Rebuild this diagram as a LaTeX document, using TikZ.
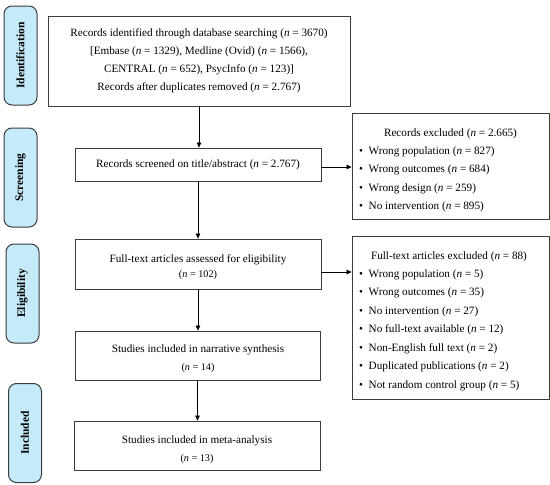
\documentclass[tikz,border=0pt]{standalone}
\usepackage{fontspec}
\setmainfont{Liberation Serif}
\usetikzlibrary{arrows.meta}
\definecolor{phasefill}{RGB}{197,235,250}
\definecolor{edgegray}{RGB}{60,60,60}
\begin{document}
\begin{tikzpicture}[x=1pt,y=-1pt,
  box/.style={draw=edgegray, line width=0.8pt, inner sep=0pt, align=center,
    font=\fontsize{11.2}{18}\selectfont},
  phase/.style={draw=edgegray, line width=1pt, fill=phasefill, rounded corners=8pt,
    rotate=90, minimum width=99pt, minimum height=33pt, inner sep=0pt,
    font=\fontsize{11.5}{12}\selectfont\bfseries},
  txt/.style={inner sep=0pt, font=\fontsize{11.2}{12}\selectfont},
  item/.style={txt, anchor=base west},
  arr/.style={-{Triangle[length=5pt,width=4.5pt]}, line width=0.7pt, draw=black}]
\useasboundingbox (0,0) rectangle (550,485);

% phase labels
\node[phase] (pid) at (20.5,55.5) {Identification};
\node[phase] (psc) at (20.5,177.5) {Screening};
\node[phase] (pel) at (22.5,293.5) {Eligibility};
\node[phase] (pin) at (25,433) {Included};

% main boxes
\node[box, minimum width=302pt, minimum height=90pt] (b1) at (199,61)
  {Records identified through database searching (\textit{n} = 3670)\\
   {[}Embase (\textit{n} = 1329), Medline (Ovid) (\textit{n} = 1566),\\
   CENTRAL (\textit{n} = 652), PsycInfo (\textit{n} = 123)]\\
   Records after duplicates removed (\textit{n} = 2.767)};
\node[box, minimum width=246pt, minimum height=33pt] (b2) at (198,164.5)
  {Records screened on title/abstract (\textit{n} = 2.767)};
\node[box, minimum width=246pt, minimum height=50pt] (b3) at (198,264) {};
\node[box, minimum width=245pt, minimum height=49pt] (b4) at (197.5,355.5) {};
\node[box, minimum width=246pt, minimum height=49pt] (b5) at (197,445.5) {};

\node[txt, anchor=base] (b3a) at (198,262) {Full-text articles assessed for eligibility};
\node[txt, anchor=base, font=\fontsize{10.2}{12}\selectfont] (b3b) at (198,277) {(\textit{n} = 102)};
\node[txt, anchor=base] (b4a) at (198,352) {Studies included in narrative synthesis};
\node[txt, anchor=base, font=\fontsize{10.2}{12}\selectfont] (b4b) at (198,370.5) {(\textit{n} = 14)};
\node[txt, anchor=base] (b5a) at (197,443) {Studies included in meta-analysis};
\node[txt, anchor=base, font=\fontsize{10.2}{12}\selectfont] (b5b) at (197,461.5) {(\textit{n} = 13)};

% exclusion boxes
\node[box, minimum width=197pt, minimum height=106pt] (ex1) at (450.5,166) {};
\node[box, minimum width=197pt, minimum height=163pt] (ex2) at (450.5,317.5) {};

\node[txt, anchor=base] (ex1t) at (450.5,136) {Records excluded (\textit{n} = 2.665)};
\node[item] (ex1a) at (359,154) {•\ \ Wrong population (\textit{n} = 827)};
\node[item] (ex1b) at (359,172) {•\ \ Wrong outcomes (\textit{n} = 684)};
\node[item] (ex1c) at (359,191) {•\ \ Wrong design (\textit{n} = 259)};
\node[item] (ex1d) at (359,209) {•\ \ No intervention (\textit{n} = 895)};

\node[txt, anchor=base] (ex2t) at (449,259) {Full-text articles excluded (\textit{n} = 88)};
\node[item] (ex2a) at (359,277) {•\ \ Wrong population (\textit{n} = 5)};
\node[item] (ex2b) at (359,295.5) {•\ \ Wrong outcomes (\textit{n} = 35)};
\node[item] (ex2c) at (359,314) {•\ \ No intervention (\textit{n} = 27)};
\node[item] (ex2d) at (359,332.5) {•\ \ No full-text available (\textit{n} = 12)};
\node[item] (ex2e) at (359,351) {•\ \ Non-English full text (\textit{n} = 2)};
\node[item] (ex2f) at (359,369.5) {•\ \ Duplicated publications (\textit{n} = 2)};
\node[item] (ex2g) at (359,388) {•\ \ Not random control group (\textit{n} = 5)};

% connectors
\draw[arr] (b1.south) -- (b1.south |- b2.north);
\draw[arr] (b2.south) -- (b2.south |- b3.north);
\draw[arr] (b3.south) -- (b3.south |- b4.north);
\draw[arr] (b4.south) -- (b4.south |- b5.north);
\draw[arr] ([yshift=-2.5pt]b2.east) -- ([yshift=-2.5pt]b2.east -| ex1.west);
\draw[arr] ([yshift=-8pt]b3.east) -- ([yshift=-8pt]b3.east -| ex2.west);
\end{tikzpicture}
\end{document}
